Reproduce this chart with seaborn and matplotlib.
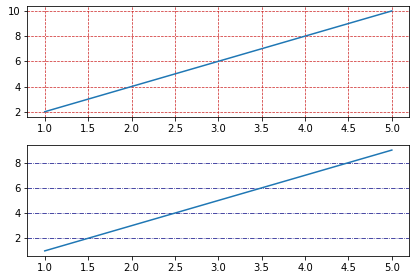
import matplotlib
matplotlib.use("Agg")
import matplotlib.pyplot as plt
import seaborn as sns
import pandas as pd

x_top = [1, 2, 3, 4, 5]
y_top = [2, 4, 6, 8, 10]
x_bottom = [1, 2, 3, 4, 5]
y_bottom = [1, 3, 5, 7, 9]
x_ticks = [1.0, 1.5, 2.0, 2.5, 3.0, 3.5, 4.0, 4.5, 5.0]

plt.rcParams['font.family'] = ['DejaVu Sans']

fig, (ax1, ax2) = plt.subplots(2, 1, figsize=(415 / 72, 280 / 72), dpi=72)
fig.subplots_adjust(left=0.066, right=0.986, top=0.979, bottom=0.086, hspace=0.255)

df_top = pd.DataFrame({"x": x_top, "y": y_top})
df_bottom = pd.DataFrame({"x": x_bottom, "y": y_bottom})

sns.lineplot(data=df_top, x="x", y="y", ax=ax1, color="#1f77b4", linewidth=1.5)
sns.lineplot(data=df_bottom, x="x", y="y", ax=ax2, color="#1f77b4", linewidth=1.5)

for ax in (ax1, ax2):
    ax.set_xlabel("")
    ax.set_ylabel("")
    ax.set_xticks(x_ticks)
    ax.tick_params(labelsize=10)

ax1.grid(True, color="#cc2222", linestyle="--", linewidth=0.7)
ax2.grid(True, axis="y", color="#000080", linestyle="-.", linewidth=0.7)

fig.savefig("out.png", dpi=72)
